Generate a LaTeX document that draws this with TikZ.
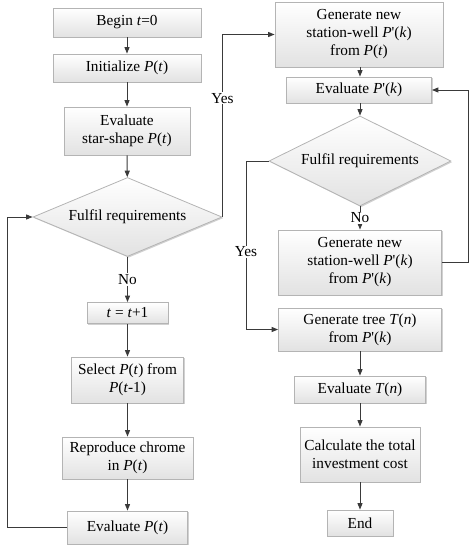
\documentclass[tikz,border=0pt]{standalone}
\usepackage{fontspec}
\setmainfont{Liberation Serif}
\usetikzlibrary{shapes.geometric,arrows.meta,shadows}
\definecolor{boxline}{HTML}{B4B4B4}
\definecolor{boxfill}{HTML}{E2E2E2}
\definecolor{arrcol}{HTML}{3A3A3A}
\newcommand{\pk}{\textit{P}\textquotesingle(\textit{k})}
\begin{document}
\begin{tikzpicture}[x=1pt,y=-1pt,
  every node/.style={font=\fontsize{15.3}{18}\selectfont},
  box/.style={draw=boxline, line width=0.8pt, top color=white, bottom color=boxfill,
    inner sep=0pt, align=center,
    drop shadow={shadow xshift=1.2pt,shadow yshift=-1.2pt,fill=black,opacity=0.18}},
  dia/.style={box, shape=diamond, aspect=2.4},
  arr/.style={draw=arrcol, line width=1pt, -{Triangle[length=6.5pt,width=5pt]}},
  lbl/.style={fill=white, inner sep=1pt}]
\useasboundingbox (0,0) rectangle (474,551);
% left column
\node[box, minimum width=148pt, minimum height=29pt] (begin) at (127,22.5) {Begin \textit{t}=0};
\node[box, minimum width=148pt, minimum height=28pt] (init) at (127,68) {Initialize \textit{P}(\textit{t})};
\node[box, minimum width=126pt, minimum height=48pt] (evalstar) at (127,131) {Evaluate\\star-shape \textit{P}(\textit{t})};
\node[dia, minimum width=189pt, minimum height=79pt] (dia1) at (127.5,217) {Fulfil requirements};
\node[box, minimum width=81pt, minimum height=21pt] (tinc) at (127.5,313) {\textit{t} = \textit{t}+1};
\node[box, minimum width=112pt, minimum height=46pt] (select) at (127.5,380) {Select \textit{P}(\textit{t}) from\\\textit{P}(\textit{t}-1)};
\node[box, minimum width=131pt, minimum height=42pt] (repro) at (127.5,458) {Reproduce chrome\\in \textit{P}(\textit{t})};
\node[box, minimum width=120pt, minimum height=33pt] (evalP) at (127.5,527.5) {Evaluate \textit{P}(\textit{t})};
% right column
\node[box, minimum width=168pt, minimum height=65pt] (gen1) at (359,34.5) {Generate new\\station-well \pk\\from \textit{P}(\textit{t})};
\node[box, minimum width=145pt, minimum height=26pt] (evalPk) at (359,90) {Evaluate \pk};
\node[dia, minimum width=182pt, minimum height=90pt] (dia2) at (360,161) {Fulfil requirements};
\node[box, minimum width=163pt, minimum height=65pt] (gen2) at (360,262.5) {Generate new\\station-well \pk\\from \pk};
\node[box, minimum width=163pt, minimum height=43pt] (gentree) at (360,329.5) {Generate tree \textit{T}(\textit{n})\\from \pk};
\node[box, minimum width=131pt, minimum height=27pt] (evalT) at (360,389.5) {Evaluate \textit{T}(\textit{n})};
\node[box, minimum width=120pt, minimum height=55pt] (calc) at (360,454.5) {Calculate the total\\investment cost};
\node[box, minimum width=66pt, minimum height=26pt] (end) at (360,523) {End};
% helper coordinates
\coordinate (lx) at (7,0);
\coordinate (yx) at (246,0);
\coordinate (rx) at (468,0);
% left connectors
\draw[arr] (begin) -- (init);
\draw[arr] (init) -- (evalstar);
\draw[arr] (evalstar) -- (dia1);
\draw[arr] (dia1.south) -- node[lbl]{No} (tinc.north);
\draw[arr] (tinc) -- (select);
\draw[arr] (select) -- (repro);
\draw[arr] (repro) -- (evalP);
\draw[arr] (evalP.west) -- (evalP.west -| lx) |- (dia1.west);
\draw[arr] (dia1.east) -- node[lbl,pos=0.65]{Yes} (dia1.east |- gen1.west) -- (gen1.west);
% right connectors
\draw[arr] (gen1.south -| dia2) -- (evalPk.north -| dia2);
\draw[arr] (evalPk.south -| dia2) -- (dia2);
\draw[arr] (dia2.south) -- node[lbl]{No} (gen2.north);
\draw[arr] (gen2.east) -- (gen2.east -| rx) |- (evalPk.east);
\draw[arr] (dia2.west) -- (dia2.west -| yx) -- node[lbl,pos=0.54]{Yes} (yx |- gentree.west) -- (gentree.west);
\draw[arr] (gentree) -- (evalT);
\draw[arr] (evalT) -- (calc);
\draw[arr] (calc) -- (end);
\end{tikzpicture}
\end{document}
